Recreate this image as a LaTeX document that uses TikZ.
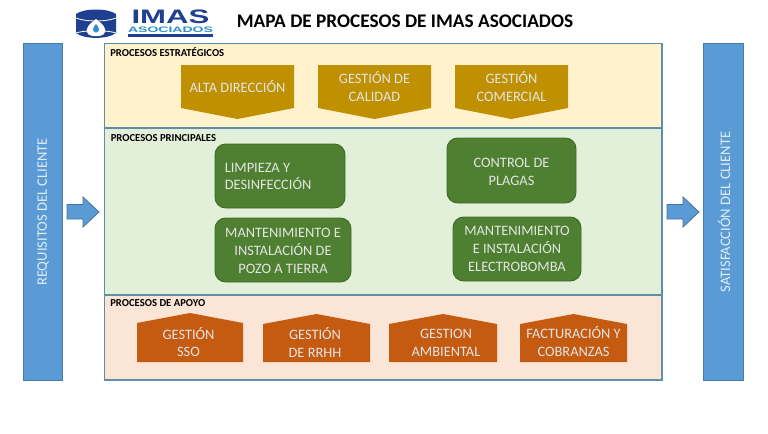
\documentclass[tikz,border=0pt]{standalone}
\usepackage{fontspec}
\setmainfont{Carlito}
\newfontfamily\logofont{Liberation Sans}
\definecolor{bluebar}{HTML}{5B9BD5}
\definecolor{bandedge}{HTML}{5F8FA8}
\definecolor{bandy}{HTML}{FFF2CC}
\definecolor{bandg}{HTML}{E2F0D9}
\definecolor{bandp}{HTML}{FBE5D6}
\definecolor{gold}{HTML}{BF9000}
\definecolor{leaf}{HTML}{4F7F30}
\definecolor{leafedge}{HTML}{3F6B2A}
\definecolor{rust}{HTML}{C55A11}
\definecolor{navy}{HTML}{1F3F8F}
\definecolor{logocyan}{HTML}{2E8FD0}
\tikzset{
 x=0.75pt,y=-0.75pt,
 band/.style={draw=bandedge,line width=0.9pt},
 bar/.style={fill=bluebar,draw=bluebar!80!black,line width=0.5pt},
 barlabel/.style={rotate=90,text=white!82!bluebar,font=\fontsize{10.9}{12}\selectfont},
 bandlabel/.style={anchor=west,font=\fontsize{8}{10}\selectfont\bfseries,text=black,inner sep=0pt},
 whitetext/.style={align=center,text=white!90!black,font=\fontsize{10.8}{13.3}\selectfont,inner sep=0pt},
 goldshape/.style={fill=gold},
 rustshape/.style={fill=rust},
 greenbox/.style={fill=leaf,draw=leafedge,line width=0.7pt,rounded corners=8pt},
 arrowshape/.style={fill=bluebar,draw=bluebar!75!black,line width=0.6pt},
}
\begin{document}
\begin{tikzpicture}
\useasboundingbox (0,0) rectangle (768,433);
\fill[white] (0,0) rectangle (768,433);
% bars
\draw[bar] (23,43) rectangle (62,380);
\draw[bar] (703,43) rectangle (743,380);
\node[barlabel] (req) at (43,212) {REQUISITOS DEL CLIENTE};
\node[barlabel] (sat) at (724,212) {SATISFACCIÓN DEL CLIENTE};
% bands
\draw[band,fill=bandy] (104.5,43.5) rectangle (662,128);
\draw[band,fill=bandg] (104.5,128) rectangle (662,295);
\draw[band,fill=bandp] (104.5,295) rectangle (662,380);
\node[bandlabel] (l1) at (110,52.5) {PROCESOS ESTRATÉGICOS};
\node[bandlabel] (l2) at (110.5,138.5) {PROCESOS PRINCIPALES};
\node[bandlabel] (l3) at (110,303) {PROCESOS DE APOYO};
% arrows
\draw[arrowshape] (67,204.5) -- (83,204.5) -- (83,197) -- (99,212) -- (83,227) -- (83,219) -- (67,219) -- cycle;
\draw[arrowshape] (667,204.5) -- (683,204.5) -- (683,197) -- (699,212) -- (683,227) -- (683,219) -- (667,219) -- cycle;
% gold
\fill[goldshape] (181,65) -- (294,65) -- (294,108) -- (237.5,119) -- (181,108) -- cycle;
\fill[goldshape] (318,65) -- (431,65) -- (431,108) -- (374.5,119) -- (318,108) -- cycle;
\fill[goldshape] (455,65) -- (568,65) -- (568,108) -- (511.5,119) -- (455,108) -- cycle;
\node[whitetext] (g1) at (237.5,87) {ALTA DIRECCIÓN};
\node[whitetext] (g2) at (374.5,86.5) {GESTIÓN DE\\CALIDAD};
\node[whitetext] (g3) at (511.5,86.5) {GESTIÓN\\COMERCIAL};
% green
\draw[greenbox] (215,144) rectangle (345,208);
\draw[greenbox] (215,218) rectangle (351,282);
\draw[greenbox] (447,138) rectangle (576,203);
\draw[greenbox] (453,217) rectangle (581,281);
\node[whitetext,align=left,anchor=west] (p1) at (224.5,176.5) {LIMPIEZA Y\\DESINFECCIÓN};
\node[whitetext] (p2) at (283,251) {MANTENIMIENTO E\\INSTALACIÓN DE\\POZO A TIERRA};
\node[whitetext] (p3) at (511.5,172) {CONTROL DE\\PLAGAS};
\node[whitetext] (p4) at (517,249) {MANTENIMIENTO\\E INSTALACIÓN\\ELECTROBOMBA};
% rust
\fill[rustshape] (137,323) -- (190,313) -- (243,323) -- (243,362) -- (137,362) -- cycle;
\fill[rustshape] (263,324) -- (316.5,314) -- (370,324) -- (370,362) -- (263,362) -- cycle;
\fill[rustshape] (389,324) -- (443,314) -- (497,324) -- (497,362) -- (389,362) -- cycle;
\fill[rustshape] (520,324) -- (573.5,314) -- (627,324) -- (627,362) -- (520,362) -- cycle;
\node[whitetext] (a1) at (188.5,342) {GESTIÓN\\SSO};
\node[whitetext] (a2) at (315,342.5) {GESTIÓN\\DE RRHH};
\node[whitetext] (a3) at (446,342.5) {GESTION\\AMBIENTAL};
\node[whitetext] (a4) at (573.5,341.5) {FACTURACIÓN Y\\COBRANZAS};
% title
\node[inner sep=0pt,font=\fontsize{14.45}{16}\selectfont\bfseries] (title) at (405,21) {MAPA DE PROCESOS DE IMAS ASOCIADOS};
% logo
\fill[navy] (76,14) .. controls (84,8) and (108,8) .. (116,14) -- (116,33) .. controls (108,39.5) and (84,39.5) .. (76,33) -- cycle;
\draw[white,line width=0.6pt] (76,18) .. controls (86,22) and (106,22) .. (116,18);
\draw[white,line width=0.6pt] (76,33) .. controls (84,30) and (108,30) .. (116,33);
\fill[white] (88,34) .. controls (84,28) and (90,24) .. (96,19) .. controls (102,24) and (108,28) .. (104,34) .. controls (101,37) and (91,37) .. (88,34) -- cycle;
\fill[logocyan] (96,24) .. controls (92,28) and (92,32) .. (96,32.5) .. controls (100,32) and (100,28) .. (96,24) -- cycle;
\node[inner sep=0pt,xscale=1.6,text=navy,font=\logofont\fontsize{14.6}{15}\selectfont\bfseries] (imas) at (170.5,16.8) {IMAS};
\node[inner sep=0pt,xscale=1.75,text=logocyan,font=\logofont\fontsize{6}{7}\selectfont\bfseries] (aso) at (170.5,29.6) {ASOCIADOS};
\fill[navy] (128,33.5) rectangle (213,37);
\end{tikzpicture}
\end{document}
